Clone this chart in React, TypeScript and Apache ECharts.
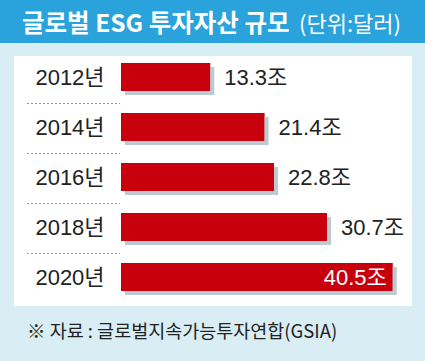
import React, { useEffect, useRef } from "react";
import * as echarts from "echarts";

const years = ["2012년", "2014년", "2016년", "2018년", "2020년"];
const values = [13.3, 21.4, 22.8, 30.7, 40.5];
const unit = "조";
const titleMain = "글로벌 ESG 투자자산 규모";
const titleUnit = "(단위:달러)";
const footer = "※ 자료 : 글로벌지속가능투자연합(GSIA)";

const NARROW = "'Liberation Sans', 'Noto Sans CJK KR', sans-serif";
const KR = "'Noto Sans CJK KR', sans-serif";

export default function App() {
  const ref = useRef<HTMLDivElement>(null);
  useEffect(() => {
    if (!ref.current) return;
    const chart = echarts.init(ref.current, null, { renderer: "svg" });
    const maxIdx = values.indexOf(Math.max(...values));
    const data = values.map((v, i) =>
      i === maxIdx
        ? {
            value: v,
            label: { position: "insideRight", distance: 6, color: "#ffffff" },
          }
        : { value: v }
    );
    chart.setOption({
      animation: false,
      backgroundColor: "#d9edf5",
      graphic: [
        { type: "rect", z: 0, shape: { x: 0, y: 0, width: 425, height: 43 }, style: { fill: "#2aa3dc" } },
        { type: "rect", z: 0, shape: { x: 14, y: 56, width: 398, height: 250 }, style: { fill: "#ffffff" } },
        {
          type: "text", z: 1, x: 22, y: 21,
          style: { text: titleMain, fill: "#ffffff", fontSize: 24.5, fontWeight: "bold", fontFamily: KR, textVerticalAlign: "middle" },
        },
        {
          type: "text", z: 1, x: 299, y: 22,
          style: { text: titleUnit, fill: "#ffffff", fontSize: 22, fontFamily: KR, textVerticalAlign: "middle" },
        },
        {
          type: "text", z: 1, x: 27, y: 330,
          style: { text: footer, fill: "#222222", fontSize: 18.5, fontFamily: KR, textVerticalAlign: "middle" },
        },
      ],
      grid: [
        { left: 121, top: 52, width: 302, height: 250 },
        { left: 27, top: 53, width: 93, height: 250 },
      ],
      xAxis: [
        { type: "value", min: 0, max: 45, show: false },
        { type: "value", gridIndex: 1, show: false },
      ],
      yAxis: [
        {
          type: "category",
          data: years,
          inverse: true,
          axisLine: { show: false },
          axisTick: { show: false },
          splitLine: { show: false },
          axisLabel: { align: "center", margin: 51, fontSize: 22, color: "#222222", fontFamily: NARROW },
        },
        {
          type: "category",
          gridIndex: 1,
          data: years,
          inverse: true,
          axisLine: { show: false },
          axisTick: { show: false },
          axisLabel: { show: false },
          splitLine: {
            show: true,
            showMinLine: false,
            showMaxLine: false,
            lineStyle: { color: "#4eaedb", type: [2, 2], width: 1 },
          },
        },
      ],
      series: [
        {
          type: "bar",
          data,
          barWidth: 28,
          itemStyle: {
            color: "#c8000b",
            shadowColor: "#bccad2",
            shadowBlur: 0,
            shadowOffsetX: 4,
            shadowOffsetY: 4,
          },
          label: {
            show: true,
            position: "right",
            distance: 14,
            fontSize: 22,
            color: "#222222",
            fontFamily: NARROW,
            formatter: (p: any) => p.value.toFixed(1) + unit,
          },
        },
      ],
    });
    return () => chart.dispose();
  }, []);
  return (
    <div
      ref={ref}
      style={{ position: "fixed", left: 0, top: 0, width: 425, height: 361 }}
    />
  );
}
